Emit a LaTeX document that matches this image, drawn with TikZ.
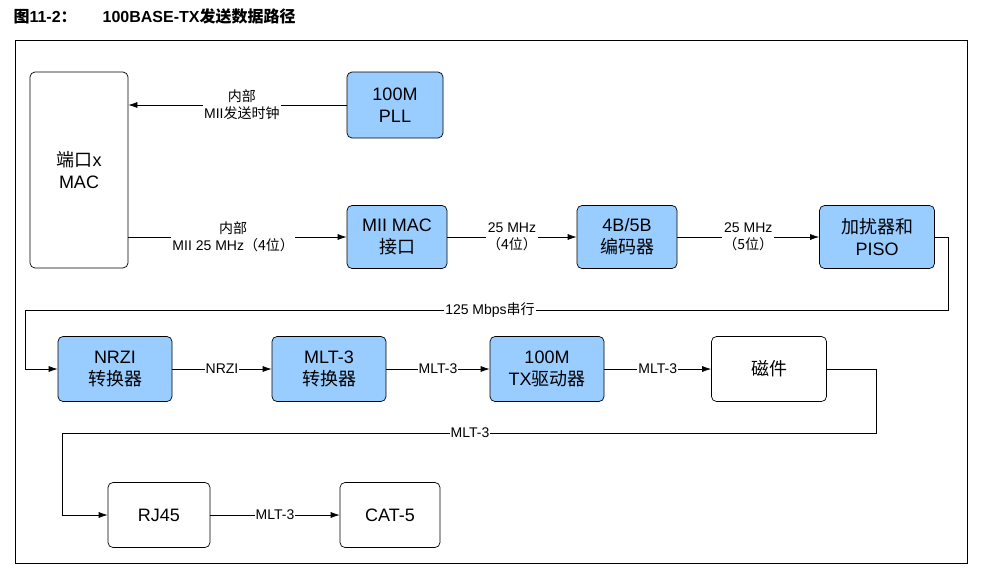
\documentclass[tikz,border=0pt]{standalone}
\usepackage{fontspec}
\setmainfont{Liberation Sans}
\newfontfamily\cjk{Noto Sans CJK SC}
\usetikzlibrary{arrows.meta}
\definecolor{blk}{HTML}{99CCFF}
\begin{document}
\begin{tikzpicture}[x=1pt,y=-1pt,
 box/.style={draw,line width=0.7pt,rounded corners=5pt,minimum width=#1,align=center,font=\fontsize{18}{22}\selectfont,inner sep=1pt},
 box/.default=100pt,
 bl/.style={fill=blk},
 arr/.style={-{Latex[length=9pt,width=6pt]},line width=0.7pt},
 lab/.style={fill=white,font=\fontsize{14}{17}\selectfont,align=center,inner sep=1pt}]
\useasboundingbox (0,0) rectangle (985,576);
\node[anchor=west,font=\bfseries\fontsize{16}{18}\selectfont] (title) at (10,16) {{\cjk 图}11-2{\cjk ：}\hspace{26pt}100BASE-TX{\cjk 发送数据路径}};
\draw[line width=0.6pt] (15,40) rectangle (967,563);
\node[box=98pt,minimum height=196pt] (mac) at (79,170) {{\cjk 端口}x\\MAC};
\node[box=96pt,bl,minimum height=66pt] (pll) at (395,105) {100M\\PLL};
\node[box=100pt,bl,minimum height=63pt] (mii) at (397,237) {MII MAC\\{\cjk 接口}};
\node[box=100pt,bl,minimum height=63pt] (enc) at (627,237) {4B/5B\\{\cjk 编码器}};
\node[box=115pt,bl,minimum height=63pt] (piso) at (877,237) {{\cjk 加扰器和}\\PISO};
\node[box=114pt,bl,minimum height=65pt] (nrzi) at (115,369) {NRZI\\{\cjk 转换器}};
\node[box=114pt,bl,minimum height=65pt] (mlt) at (329,369) {MLT-3\\{\cjk 转换器}};
\node[box=114pt,bl,minimum height=65pt] (tx) at (547,369) {100M\\TX{\cjk 驱动器}};
\node[box=115pt,minimum height=65pt] (mag) at (769,369) {{\cjk 磁件}};
\node[box=102pt,minimum height=65pt] (rj) at (159,515) {RJ45};
\node[box=100pt,minimum height=65pt] (cat) at (390,515) {CAT-5};
\coordinate (c1) at (948,237); \coordinate (c2) at (948,310);
\coordinate (c3) at (25,310); \coordinate (c4) at (25,369);
\coordinate (d1) at (876,369); \coordinate (d2) at (876,433);
\coordinate (d3) at (62,433); \coordinate (d4) at (62,515);
\draw[arr] (pll.west) -- (mac.east|-pll.west) node[lab,pos=0.48] {{\cjk 内部}\\MII{\cjk 发送时钟}};
\draw[arr] (mac.east|-mii.west) -- (mii.west) node[lab,pos=0.48] {{\cjk 内部}\\MII 25 MHz{\cjk （4位）}};
\draw[arr] (mii) -- (enc) node[lab,midway] {25 MHz\\{\cjk （4位）}};
\draw[arr] (enc) -- (piso) node[lab,midway] {25 MHz\\{\cjk （5位）}};
\draw[arr] (piso.east) -- (c1) -- (c2) -- (c3) -- (c4) -- (nrzi.west);
\node[lab] (l125) at (490,310) {125 Mbps{\cjk 串行}};
\draw[arr] (nrzi) -- (mlt) node[lab,midway] {NRZI};
\draw[arr] (mlt) -- (tx) node[lab,midway] {MLT-3};
\draw[arr] (tx) -- (mag) node[lab,midway] {MLT-3};
\draw[arr] (mag.east) -- (d1) -- (d2) -- (d3) -- (d4) -- (rj.west);
\node[lab] (lm) at (470,433) {MLT-3};
\draw[arr] (rj) -- (cat) node[lab,midway] {MLT-3};
\end{tikzpicture}
\end{document}
